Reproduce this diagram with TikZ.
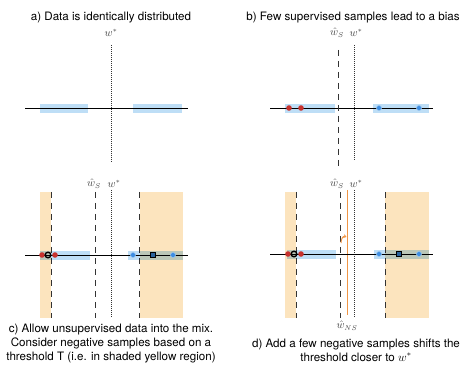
\documentclass[tikz,border=0pt]{standalone}
\usepackage{amsmath}
\usepackage{fontspec}
\setmainfont{TeX Gyre Heros}
\usetikzlibrary{arrows.meta}

\definecolor{bandblue}{RGB}{190,222,246}
\definecolor{dotblue}{RGB}{60,140,225}
\definecolor{dotred}{RGB}{200,50,45}
\definecolor{shade}{RGB}{252,228,190}
\definecolor{nsorange}{RGB}{240,150,70}

\begin{document}
\begin{tikzpicture}[x=1pt,y=-1pt]
		\tikzset{
			axis/.style={draw=black, line width=0.8pt},
			band/.style={fill=bandblue, draw=none},
			region/.style={fill=shade, draw=none},
			truth/.style={draw=black!80, line width=1pt, dash pattern=on 1pt off 1pt},
			estim/.style={draw=black!80, line width=1pt, dash pattern=on 6pt off 5pt},
			redpt/.style={fill=dotred, draw=none},
			bluept/.style={fill=dotblue, draw=bandblue!70!dotblue, line width=0.6pt},
			caption/.style={font=\fontsize{11.6}{14}\selectfont, align=center},
			mlabel/.style={font=\fontsize{10.5}{12}\selectfont, text=black!75, inner sep=0.5pt}
		}
		\useasboundingbox (0,0) rectangle (474,387);

		% TOP LEFT: a)
		\begin{scope}[local bounding box=pa]
			\node[caption] (ta) at (111,18) {a) Data is identically distributed};
			\fill[band] (40,104) rectangle (88,113);
			\fill[band] (133,104) rectangle (182,113);
			\draw[axis] (25,108) -- (188,108);
			\draw[truth] (111,45) -- (111,162);
			\node[mlabel] (wa) at (111,33) {$w^*$};
		\end{scope}

		% TOP RIGHT: b)
		\begin{scope}[xshift=245pt, local bounding box=pb]
			\node[caption] (tb) at (108,18) {b) Few supervised samples lead to a bias};
			\fill[band] (40,104) rectangle (90,113);
			\fill[band] (128,104) rectangle (184,113);
			\draw[axis] (25,108) -- (188,108);
			\draw[estim] (93,50) -- (93,170);
			\draw[truth] (109,45) -- (109,160);
			% labelled samples
			\fill[redpt] (44,108) circle (2.8);
			\fill[redpt] (56,108) circle (2.8);
			\filldraw[bluept] (134,108) circle (2.5);
			\filldraw[bluept] (174,108) circle (2.5);
			\node[mlabel] (sb) at (92,33) {$\hat{w}_S$};
			\node[mlabel] (wb) at (111,33) {$w^*$};
		\end{scope}

		% BOTTOM LEFT: c)
		\begin{scope}[local bounding box=pc]
			\fill[region] (40,192) rectangle (51,318);
			\fill[region] (140,192) rectangle (183,318);
			\begin{scope}[blend mode=multiply]
				\fill[band] (40,251) rectangle (90,260);
				\fill[band] (128,251) rectangle (183,260);
			\end{scope}
			\draw[estim] (51,192) -- (51,318);
			\draw[estim] (95,192) -- (95,318);
			\draw[estim] (139,192) -- (139,318);
			\draw[truth] (111,190) -- (111,318);
			\draw[axis] (25,255) -- (188,255);
			\fill[redpt] (42,255) circle (2.8);
			\fill[redpt] (55,255) circle (2.8);
			\draw[black, line width=1.4pt] (48,255) circle (2.8);
			\filldraw[bluept] (133,255) circle (2.5);
			\filldraw[bluept] (173,255) circle (2.5);
			\filldraw[fill=dotblue!70!black, draw=black, line width=1.4pt] (150.5,252.5) rectangle (155.5,257.5);
			\node[mlabel] (sc) at (94,184) {$\hat{w}_S$};
			\node[mlabel] (wc) at (114,184) {$w^*$};
			\node[caption] (tc) at (111,344) {c) Allow unsupervised data into the mix.\\Consider negative samples based on a\\threshold T (i.e. in shaded yellow region)};
		\end{scope}

		% BOTTOM RIGHT: d)
		\begin{scope}[xshift=245pt, local bounding box=pd]
			\fill[region] (40,192) rectangle (51,318);
			\fill[region] (140,192) rectangle (184,318);
			\begin{scope}[blend mode=multiply]
				\fill[band] (42,250) rectangle (91,259);
				\fill[band] (129,250) rectangle (184,259);
			\end{scope}
			\draw[estim] (51,192) -- (51,318);
			\draw[estim] (95,192) -- (95,318);
			\draw[estim] (140,192) -- (140,318);
			\draw[truth] (109,190) -- (109,318);
			% shifted threshold
			\draw[nsorange, line width=1pt] (102,190) -- (102,315);
			\draw[nsorange, line width=1pt, -{Stealth[length=3pt,width=4pt]}] (96,243) .. controls (96,238) and (98.5,236) .. (101.5,237);
			\draw[axis] (25,254) -- (188,254);
			\fill[redpt] (43,254) circle (2.8);
			\fill[redpt] (56,254) circle (2.8);
			\draw[black, line width=1.4pt] (49,254) circle (2.8);
			\filldraw[bluept] (134,254) circle (2.5);
			\filldraw[bluept] (174,254) circle (2.5);
			\filldraw[fill=dotblue!70!black, draw=black, line width=1.4pt] (151.5,251.5) rectangle (156.5,256.5);
			\node[mlabel] (sd) at (92,184) {$\hat{w}_S$};
			\node[mlabel] (wd) at (111,184) {$w^*$};
			\node[mlabel] (nd) at (102,326) {$\hat{w}_{NS}$};
			\node[caption] (td) at (111,350) {d) Add a few negative samples shifts the\\threshold closer to $w^*$};
		\end{scope}

	\end{tikzpicture}
\end{document}
